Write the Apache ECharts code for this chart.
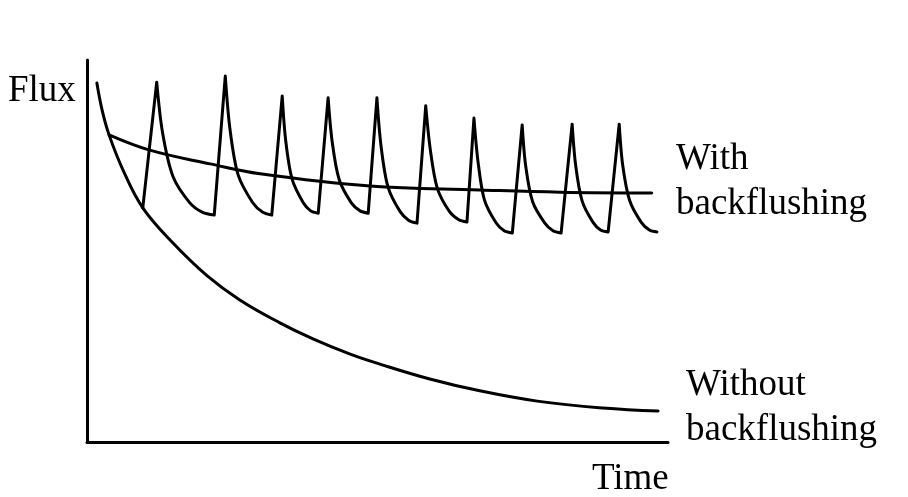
<!DOCTYPE html>
<html>
<head>
<meta charset="utf-8">
<script src="https://cdn.jsdelivr.net/npm/echarts@6/dist/echarts.min.js"></script>
<style>
  html, body { margin: 0; padding: 0; background: #fff; }
  #main { width: 908px; height: 497px; }
</style>
</head>
<body>
<div id="main"></div>
<script>
// time 0-100, flux 0-100 (arbitrary units)
var withoutBackflush = [
  [1.7, 94.0], [2.6, 86.9], [3.8, 80.4], [6.2, 71.2], [9.6, 61.3],
  [14.8, 52.1], [20.7, 43.5], [26.3, 37.2], [33.2, 31.2], [38.9, 27.0],
  [45.3, 23.0], [50.4, 20.4], [59.0, 16.5], [67.6, 13.4], [77.5, 10.7],
  [88.8, 8.9], [98.3, 8.1]
];

var withBackflushAvg = [
  [3.8, 80.4], [10.8, 76.4], [21.2, 72.8], [29.8, 70.2], [48.7, 67.0],
  [67.6, 66.0], [81.4, 65.4], [97.2, 65.2]
];

// each cycle: point where flux jumps up, peak, then the decay back down
var sawCycles = [
  [[9.6, 61.3], [12.0, 94.2], [13.0, 81.0], [14.8, 69.5], [17.7, 62.6], [19.9, 60.1], [21.9, 59.4]],
  [[21.9, 59.4], [23.8, 95.8], [24.6, 82.0], [26.0, 70.0], [28.5, 62.7], [30.2, 60.2], [31.8, 59.4]],
  [[31.8, 59.4], [33.6, 90.6], [34.2, 78.9], [35.3, 68.8], [37.2, 62.7], [38.5, 60.5], [39.8, 59.9]],
  [[39.8, 59.9], [41.5, 90.1], [42.2, 78.6], [43.4, 68.7], [45.5, 62.6], [47.0, 60.5], [48.4, 59.9]],
  [[48.4, 59.9], [49.9, 90.1], [50.6, 77.6], [51.8, 66.8], [53.9, 60.3], [55.4, 58.0], [56.8, 57.3]],
  [[56.8, 57.3], [58.3, 88.0], [59.1, 76.4], [60.3, 66.4], [62.4, 60.3], [64.0, 58.2], [65.4, 57.6]],
  [[65.4, 57.6], [66.6, 84.8], [67.3, 73.4], [68.4, 63.4], [70.4, 57.4], [71.8, 55.3], [73.2, 54.7]],
  [[73.2, 54.7], [74.9, 83.0], [75.5, 72.3], [76.7, 62.9], [78.8, 57.3], [80.2, 55.3], [81.6, 54.7]],
  [[81.6, 54.7], [83.5, 83.2], [84.1, 72.5], [85.2, 63.2], [87.1, 57.5], [88.4, 55.5], [89.7, 55.0]],
  [[89.7, 55.0], [91.6, 83.2], [92.2, 72.5], [93.4, 63.2], [95.4, 57.5], [96.8, 55.5], [98.1, 55.0]]
];

var labelFlux = 'Flux';
var labelTime = 'Time';
var labelWith = ['With', 'backflushing'];
var labelWithout = ['Without', 'backflushing'];

// rise is a straight stroke, decay is smoothed on its own (gap between them)
var sawData = [];
sawCycles.forEach(function (c) {
  sawData.push(c[0], c[1], ['-', '-']);
  for (var i = 1; i < c.length; i++) sawData.push(c[i]);
  sawData.push(['-', '-']);
});

var chart = echarts.init(document.getElementById('main'));

var lineStyle = { color: '#000', width: 3, cap: 'round', join: 'round' };

function label(text, x, y) {
  return {
    type: 'text', left: x, top: y,
    style: { text: text, font: '37px "Liberation Serif", serif', lineHeight: 45, fill: '#000' }
  };
}

var option = {
  backgroundColor: '#fff',
  animation: false,
  grid: { left: 87, top: 60, width: 581, height: 382 },
  xAxis: {
    type: 'value', min: 0, max: 100,
    axisLine: { lineStyle: { color: '#000', width: 3 } },
    axisTick: { show: false }, axisLabel: { show: false }, splitLine: { show: false }
  },
  yAxis: {
    type: 'value', min: 0, max: 100,
    axisLine: { show: true, lineStyle: { color: '#000', width: 3 } },
    axisTick: { show: false }, axisLabel: { show: false }, splitLine: { show: false }
  },
  series: [
    {
      name: 'Without backflushing', type: 'line', data: withoutBackflush,
      smooth: 0.4, showSymbol: false, lineStyle: lineStyle
    },
    {
      name: 'With backflushing (mean)', type: 'line', data: withBackflushAvg,
      smooth: 0.4, showSymbol: false, lineStyle: lineStyle
    },
    {
      name: 'With backflushing', type: 'line', data: sawData,
      smooth: 0.3, showSymbol: false, connectNulls: false, lineStyle: lineStyle
    }
  ],
  graphic: [
    label(labelFlux, 8, 69),
    label(labelTime, 592, 457),
    label(labelWith.join('\n'), 676, 137),
    label(labelWithout.join('\n'), 686, 363)
  ]
};

chart.setOption(option);
</script>
</body>
</html>
